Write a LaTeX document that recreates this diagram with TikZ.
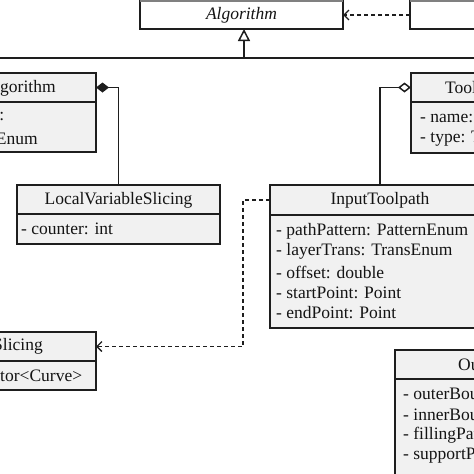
\documentclass[tikz,border=0pt]{standalone}
\usepackage{fontspec}
\setmainfont{Liberation Serif}
\usetikzlibrary{arrows.meta}
\definecolor{boxfill}{HTML}{F1F1F1}
\definecolor{linec}{HTML}{1E1E1E}
\definecolor{txtc}{HTML}{141414}
\begin{document}
\begin{tikzpicture}[x=1pt,y=-1pt,
  box/.style={draw=linec, line width=1.5pt, fill=boxfill, rectangle, inner sep=0pt, outer sep=0pt, anchor=north west},
  wbox/.style={box, fill=white},
  txt/.style={inner sep=0pt, anchor=west, text=txtc, font=\fontsize{17.5}{20.5}\selectfont},
  hdr/.style={inner sep=0pt, text=txtc, font=\fontsize{17.5}{20.5}\selectfont},
  conn/.style={draw=linec, line width=1.5pt},
  dep/.style={conn, line width=1.3pt, dash pattern=on 4pt off 3pt, -{Straight Barb[length=5pt,width=10pt]}},
]
\useasboundingbox (0,0) rectangle (474,474);
\clip (0,0) rectangle (474,474);
\fill[white] (0,0) rectangle (474,474);

% top row
\node[wbox, minimum width=203pt, minimum height=39pt] (algo) at (140,-10) {};
\draw[conn, draw=gray] (140,0.8) -- (343,0.8);
\node[hdr, font=\fontsize{17.5}{20.5}\selectfont\itshape] (algoT) at (241.5,15) {Algorithm};
\node[wbox, minimum width=100pt, minimum height=39pt] (ifc) at (410,-10) {};
\draw[conn, draw=gray] (410,0.8) -- (474,0.8);

% left algorithm class
\node[box, minimum width=156pt, minimum height=29pt] (lalgH) at (-60,73) {};
\node[box, minimum width=156pt, minimum height=50pt] (lalgA) at (-60,102) {};
\node[txt] (lalgT) at (0,88) {gorithm};
\node[txt, anchor=east] (lalg1) at (4.5,117) {:};
\node[txt, anchor=east] (lalg2) at (38,139) {Enum};

% Tool class
\node[box, minimum width=100pt, minimum height=29pt] (toolH) at (411,73) {};
\node[box, minimum width=100pt, minimum height=51pt] (toolA) at (411,102) {};
\node[txt] (toolT) at (445,88) {Tool};
\node[txt] (tool1) at (420,118) {- name:};
\node[txt] (tool2) at (420,139) {- type: T};

% LocalVariableSlicing
\node[box, minimum width=203pt, minimum height=29pt] (lvsH) at (17,185) {};
\node[box, minimum width=203pt, minimum height=30pt] (lvsA) at (17,214) {};
\node[hdr] (lvsT) at (118.5,200) {LocalVariableSlicing};
\node[txt] (lvs1) at (21,229) {- counter: int};

% InputToolpath
\node[box, minimum width=220pt, minimum height=30pt] (itpH) at (270,185) {};
\node[box, minimum width=220pt, minimum height=113pt] (itpA) at (270,215) {};
\node[hdr] (itpT) at (380,200) {InputToolpath};
\node[txt] (itp1) at (276,231) {- pathPattern: PatternEnum};
\node[txt] (itp2) at (276,251.5) {- layerTrans: TransEnum};
\node[txt] (itp3) at (276,272) {- offset: double};
\node[txt] (itp4) at (276,292.5) {- startPoint: Point};
\node[txt] (itp5) at (276,313) {- endPoint: Point};

% Slicing class (bottom left)
\node[box, minimum width=156pt, minimum height=29pt] (slH) at (-60,332) {};
\node[box, minimum width=156pt, minimum height=29pt] (slA) at (-60,361) {};
\node[txt, anchor=east] (slT) at (43,346.5) {Slicing};
\node[txt] (sl1) at (0,376) {tor<Curve>};

% Output class
\node[box, minimum width=100pt, minimum height=29pt] (outH) at (395,350) {};
\node[box, minimum width=100pt, minimum height=110pt] (outA) at (395,379) {};
\node[txt] (outT) at (458,365) {Out};
\node[txt] (out1) at (403,394) {- outerBoun};
\node[txt] (out2) at (403,414.5) {- innerBoun};
\node[txt] (out3) at (403,435) {- fillingPat};
\node[txt] (out4) at (403,455.5) {- supportPa};

% connectors
\draw[dep] (ifc.west |- algoT) -- (algo.east |- algoT);
\coordinate (busL) at (0,58);
\coordinate (busR) at (474,58);
\coordinate (busM) at (244,58);
\draw[conn] (busL) -- (busR);
\draw[conn, -{Triangle[open, fill=white, length=12pt, width=12pt]}] (busM) -- (busM |- algo.south);
\draw[conn, -{Diamond[length=13pt, width=10pt]}] (lvsH.north) |- (lalgH.east);
\draw[conn, -{Diamond[open, fill=white, length=13pt, width=10pt]}] (itpH.north) |- (toolH.west);
\draw[dep] (itpH.west) -- ++(-27,0) |- (slH.east);
\end{tikzpicture}
\end{document}
